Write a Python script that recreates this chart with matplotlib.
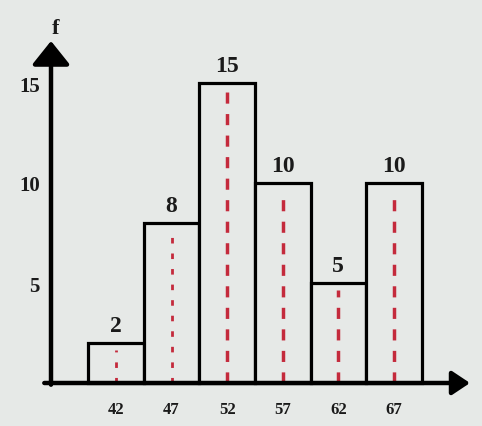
import matplotlib
matplotlib.use("Agg")
import matplotlib.pyplot as plt

# data
class_marks = [42, 47, 52, 57, 62, 67]
freqs = [2, 8, 15, 10, 5, 10]
y_ticks = [5, 10, 15]
class_width = 5

BG = "#e6e9e7"
RED = "#c42a3c"
FONT = ["Liberation Serif", "DejaVu Serif"]

fig = plt.figure(figsize=(4.82, 4.27), dpi=100)
fig.patch.set_facecolor(BG)
ax = fig.add_axes([51 / 482, 43 / 427, 419 / 482, 342 / 427])
ax.set_facecolor(BG)
ax.set_xlim(36.16, 73.84)
ax.set_ylim(0, 17.1)

ax.bar(class_marks, freqs, width=class_width, facecolor=BG,
       edgecolor="black", linewidth=2.3, zorder=2, clip_on=False)

for i, (xm, f) in enumerate(zip(class_marks, freqs)):
    if i < 2:
        ax.plot([xm, xm], [0, f - 0.35], color=RED, lw=2.0,
                dashes=(2.0, 3.6), zorder=3)
    else:
        ax.plot([xm, xm], [0, f - 0.35], color=RED, lw=2.5,
                dashes=(3.2, 3.0), zorder=3)
    ax.annotate(str(f), (xm, f), xytext=(0, 5), textcoords="offset points",
                ha="center", va="bottom", fontsize=17, fontweight="bold",
                family=FONT, color="#1a1a1a")

for s in ax.spines.values():
    s.set_visible(False)

ax.set_xticks(class_marks)
ax.set_xticklabels([str(c) for c in class_marks])
ax.set_yticks(y_ticks)
ax.set_yticklabels([str(t) for t in y_ticks])
ax.tick_params(axis="x", length=0, pad=13, labelsize=12)
ax.tick_params(axis="y", length=0, pad=8, labelsize=15)
for lab in ax.get_xticklabels() + ax.get_yticklabels():
    lab.set_family(FONT)
    lab.set_fontweight("bold")
    lab.set_color("#1a1a1a")

# axis arrows
ax.annotate("", xy=(0, 1.0), xytext=(0, -0.005), xycoords="axes fraction",
            arrowprops=dict(arrowstyle="-|>,head_length=1.0,head_width=0.8",
                            mutation_scale=14.4, lw=3.2, color="black",
                            shrinkA=0, shrinkB=0), zorder=5)
ax.annotate("", xy=(1.0, 0), xytext=(-0.016, 0), xycoords="axes fraction",
            arrowprops=dict(arrowstyle="-|>,head_length=0.75,head_width=0.5",
                            mutation_scale=14.4, lw=3.2, color="black",
                            shrinkA=0, shrinkB=0), zorder=5)

ax.text(0.012, 1.01, "f", transform=ax.transAxes, ha="center", va="bottom",
        fontsize=16, fontweight="bold", family=FONT, color="#1a1a1a")

fig.savefig("out.png", dpi=100, facecolor=BG)
